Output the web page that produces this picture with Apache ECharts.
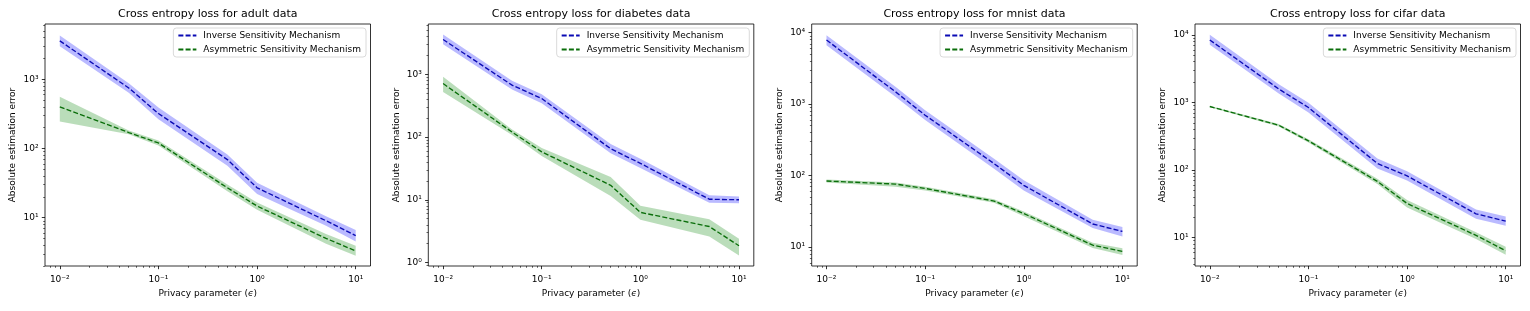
<!DOCTYPE html>
<html>
<head>
<meta charset="utf-8">
<script src="https://cdn.jsdelivr.net/npm/echarts@6/dist/echarts.min.js"></script>
<style>
  html, body { margin: 0; padding: 0; background: #fff; }
  #chart { width: 1530px; height: 311px; }
</style>
</head>
<body>
<div id="chart"></div>
<script>
// privacy parameter values (x)
const epsilon = [0.01, 0.05, 0.1, 0.5, 1, 5, 10];
const datasetNames = ['adult', 'diabetes', 'mnist', 'cifar'];
const seriesNames = ['Inverse Sensitivity Mechanism', 'Asymmetric Sensitivity Mechanism'];

// adult
const adultInverse = [3600, 750, 320, 69, 27, 9, 5.5];
const adultInverseLow = [3000, 640, 265, 56, 22, 7.6, 4.5];
const adultInverseHigh = [4300, 880, 390, 82, 32, 10.5, 6.6];
const adultAsym = [400, 170, 120, 27, 14.7, 5, 3.3];
const adultAsymLow = [245, 160, 110, 24, 13, 4.2, 2.8];
const adultAsymHigh = [560, 182, 130, 30, 16.5, 5.8, 3.9];

// diabetes
const diabetesInverse = [3570, 670, 410, 65, 38, 10.2, 10];
const diabetesInverseLow = [3000, 570, 345, 55, 32, 9, 8.8];
const diabetesInverseHigh = [4300, 790, 480, 77, 45, 11.8, 11.3];
const diabetesAsym = [710, 120, 58, 17, 6.3, 3.75, 1.85];
const diabetesAsymLow = [520, 108, 50, 11.5, 4.8, 2.6, 1.3];
const diabetesAsymHigh = [910, 132, 67, 23, 8, 4.9, 2.4];

// mnist
const mnistInverse = [7900, 1490, 700, 147, 73, 21, 16.5];
const mnistInverseLow = [6700, 1270, 600, 125, 62, 18.5, 14];
const mnistInverseHigh = [9200, 1750, 820, 172, 86, 24, 19];
const mnistAsym = [84, 76, 66, 44, 29.4, 10.6, 8.7];
const mnistAsymLow = [80, 70, 62, 41.5, 27, 9.7, 7.7];
const mnistAsymHigh = [88, 80, 70, 46.5, 31.5, 11.5, 9.6];

// cifar
const cifarInverse = [8400, 1580, 840, 125, 82, 22.5, 17.5];
const cifarInverseLow = [7100, 1350, 710, 105, 70, 19, 15];
const cifarInverseHigh = [10000, 1850, 990, 148, 96, 26, 20.5];
const cifarAsym = [870, 460, 270, 68, 32, 10.8, 6.4];
const cifarAsymLow = [845, 440, 255, 62, 28, 9.5, 5.6];
const cifarAsymHigh = [895, 480, 285, 74, 36, 12, 7.3];

// tick labels
const xMajorTicks = [0.01, 0.1, 1, 10];
const yMajorTicks = [
  [10, 100, 1000],
  [1, 10, 100, 1000],
  [10, 100, 1000, 10000],
  [10, 100, 1000, 10000]
];

const panelData = [
  [adultInverse, adultInverseLow, adultInverseHigh, adultAsym, adultAsymLow, adultAsymHigh],
  [diabetesInverse, diabetesInverseLow, diabetesInverseHigh, diabetesAsym, diabetesAsymLow, diabetesAsymHigh],
  [mnistInverse, mnistInverseLow, mnistInverseHigh, mnistAsym, mnistAsymLow, mnistAsymHigh],
  [cifarInverse, cifarInverseLow, cifarInverseHigh, cifarAsym, cifarAsymLow, cifarAsymHigh]
];

// layout (px) and axis ranges (log10)
const gridLefts = [45, 428.3, 811.7, 1195];
const gridWidth = 325.5;
const gridTop = 24;
const gridHeight = 242;
const xLogRange = [-2.15, 1.15];
const yLogRange = [[0.30, 3.80], [-0.055, 3.80], [0.734, 4.122], [0.58, 4.16]];

const font = 'DejaVu Sans';
const lineColors = ['#0a0ab4', '#0a6e0a'];
const bandColors = ['rgba(0,0,255,0.27)', 'rgba(0,128,0,0.27)'];

const supMap = { '-': '\u207b', '0': '\u2070', '1': '\u00b9', '2': '\u00b2', '3': '\u00b3', '4': '\u2074' };
function powLabel(v) {
  const e = Math.round(Math.log10(v));
  return '10' + String(e).split('').map(c => supMap[c]).join('');
}

function minorTicks(lo, hi) {
  const out = [];
  for (let k = lo; k <= hi; k++) {
    for (let m = 2; m <= 9; m++) out.push(m * Math.pow(10, k));
  }
  return out;
}

function bandSeries(idx, low, high, color) {
  return {
    type: 'custom',
    xAxisIndex: idx * 2,
    yAxisIndex: idx * 2,
    z: 1,
    silent: true,
    data: epsilon.map((e, j) => [e, low[j], high[j]]),
    encode: { x: 0, y: [1, 2] },
    renderItem: function (params, api) {
      if (params.dataIndex !== 0) return;
      const pts = [];
      epsilon.forEach((e, j) => pts.push(api.coord([e, high[j]])));
      for (let j = epsilon.length - 1; j >= 0; j--) pts.push(api.coord([epsilon[j], low[j]]));
      return { type: 'polygon', shape: { points: pts }, style: { fill: color, stroke: null } };
    }
  };
}

function lineSeries(idx, name, values, color) {
  return {
    name: name,
    type: 'line',
    xAxisIndex: idx * 2,
    yAxisIndex: idx * 2,
    z: 3,
    symbol: 'none',
    silent: true,
    data: epsilon.map((e, j) => [e, values[j]]),
    lineStyle: { color: color, width: 1.35, type: [5, 2.2] },
    itemStyle: { color: color }
  };
}

const grid = [], xAxis = [], yAxis = [], title = [], legend = [], series = [];

datasetNames.forEach((name, i) => {
  const left = gridLefts[i];
  grid.push({
    left: left, top: gridTop, width: gridWidth, height: gridHeight,
    show: true, borderColor: '#000', borderWidth: 0.8, backgroundColor: 'transparent'
  });

  const xBase = {
    type: 'log', gridIndex: i, position: 'bottom',
    min: Math.pow(10, xLogRange[0]), max: Math.pow(10, xLogRange[1]),
    axisLine: { show: false }, splitLine: { show: false }
  };
  xAxis.push(Object.assign({}, xBase, {
    name: 'Privacy parameter ({e|\u03f5})',
    nameLocation: 'middle', nameGap: 23,
    nameTextStyle: {
      fontSize: 9, fontFamily: font, color: '#000',
      rich: { e: { fontSize: 9, fontFamily: font, fontStyle: 'italic', color: '#000' } }
    },
    axisTick: { customValues: xMajorTicks, length: 3.2, lineStyle: { color: '#000', width: 0.8 } },
    axisLabel: { customValues: xMajorTicks, formatter: powLabel, margin: 9.5, fontSize: 9, fontFamily: font, color: '#000' }
  }));
  xAxis.push(Object.assign({}, xBase, {
    axisTick: { customValues: minorTicks(-3, 1), length: 1.8, lineStyle: { color: '#000', width: 0.6 } },
    axisLabel: { show: false }
  }));

  const yBase = {
    type: 'log', gridIndex: i, position: 'left',
    min: Math.pow(10, yLogRange[i][0]), max: Math.pow(10, yLogRange[i][1]),
    axisLine: { show: false }, splitLine: { show: false }
  };
  yAxis.push(Object.assign({}, yBase, {
    name: 'Absolute estimation error',
    nameLocation: 'middle', nameGap: 27.5,
    nameTextStyle: { fontSize: 9, fontFamily: font, color: '#000' },
    axisTick: { customValues: yMajorTicks[i], length: 3.2, lineStyle: { color: '#000', width: 0.8 } },
    axisLabel: { customValues: yMajorTicks[i], formatter: powLabel, margin: 6.5, fontSize: 9, fontFamily: font, color: '#000' }
  }));
  yAxis.push(Object.assign({}, yBase, {
    axisTick: { customValues: minorTicks(-1, 4), length: 1.8, lineStyle: { color: '#000', width: 0.6 } },
    axisLabel: { show: false }
  }));

  title.push({
    text: 'Cross entropy loss for ' + name + ' data',
    left: left + gridWidth / 2, top: 9, textAlign: 'center', padding: 0,
    textStyle: { fontSize: 11, fontWeight: 'normal', fontFamily: font, color: '#000' }
  });

  legend.push({
    orient: 'vertical',
    right: 1530 - (left + gridWidth - 4.5), top: gridTop + 4,
    data: seriesNames, selectedMode: false,
    itemWidth: 18, itemHeight: 10, itemGap: 5,
    padding: [3, 5, 3, 4],
    itemStyle: { opacity: 0 },
    backgroundColor: 'rgba(255,255,255,0.8)',
    borderColor: '#d0d0d0', borderWidth: 0.8, borderRadius: 3,
    textStyle: { fontSize: 9, fontFamily: font, color: '#000', padding: [0, 0, 0, 2] }
  });

  const d = panelData[i];
  series.push(bandSeries(i, d[1], d[2], bandColors[0]));
  series.push(bandSeries(i, d[4], d[5], bandColors[1]));
  series.push(lineSeries(i, seriesNames[0], d[0], lineColors[0]));
  series.push(lineSeries(i, seriesNames[1], d[3], lineColors[1]));
});

const chart = echarts.init(document.getElementById('chart'));
chart.setOption({
  animation: false,
  backgroundColor: '#fff',
  title: title,
  legend: legend,
  grid: grid,
  xAxis: xAxis,
  yAxis: yAxis,
  series: series
});
</script>
</body>
</html>
